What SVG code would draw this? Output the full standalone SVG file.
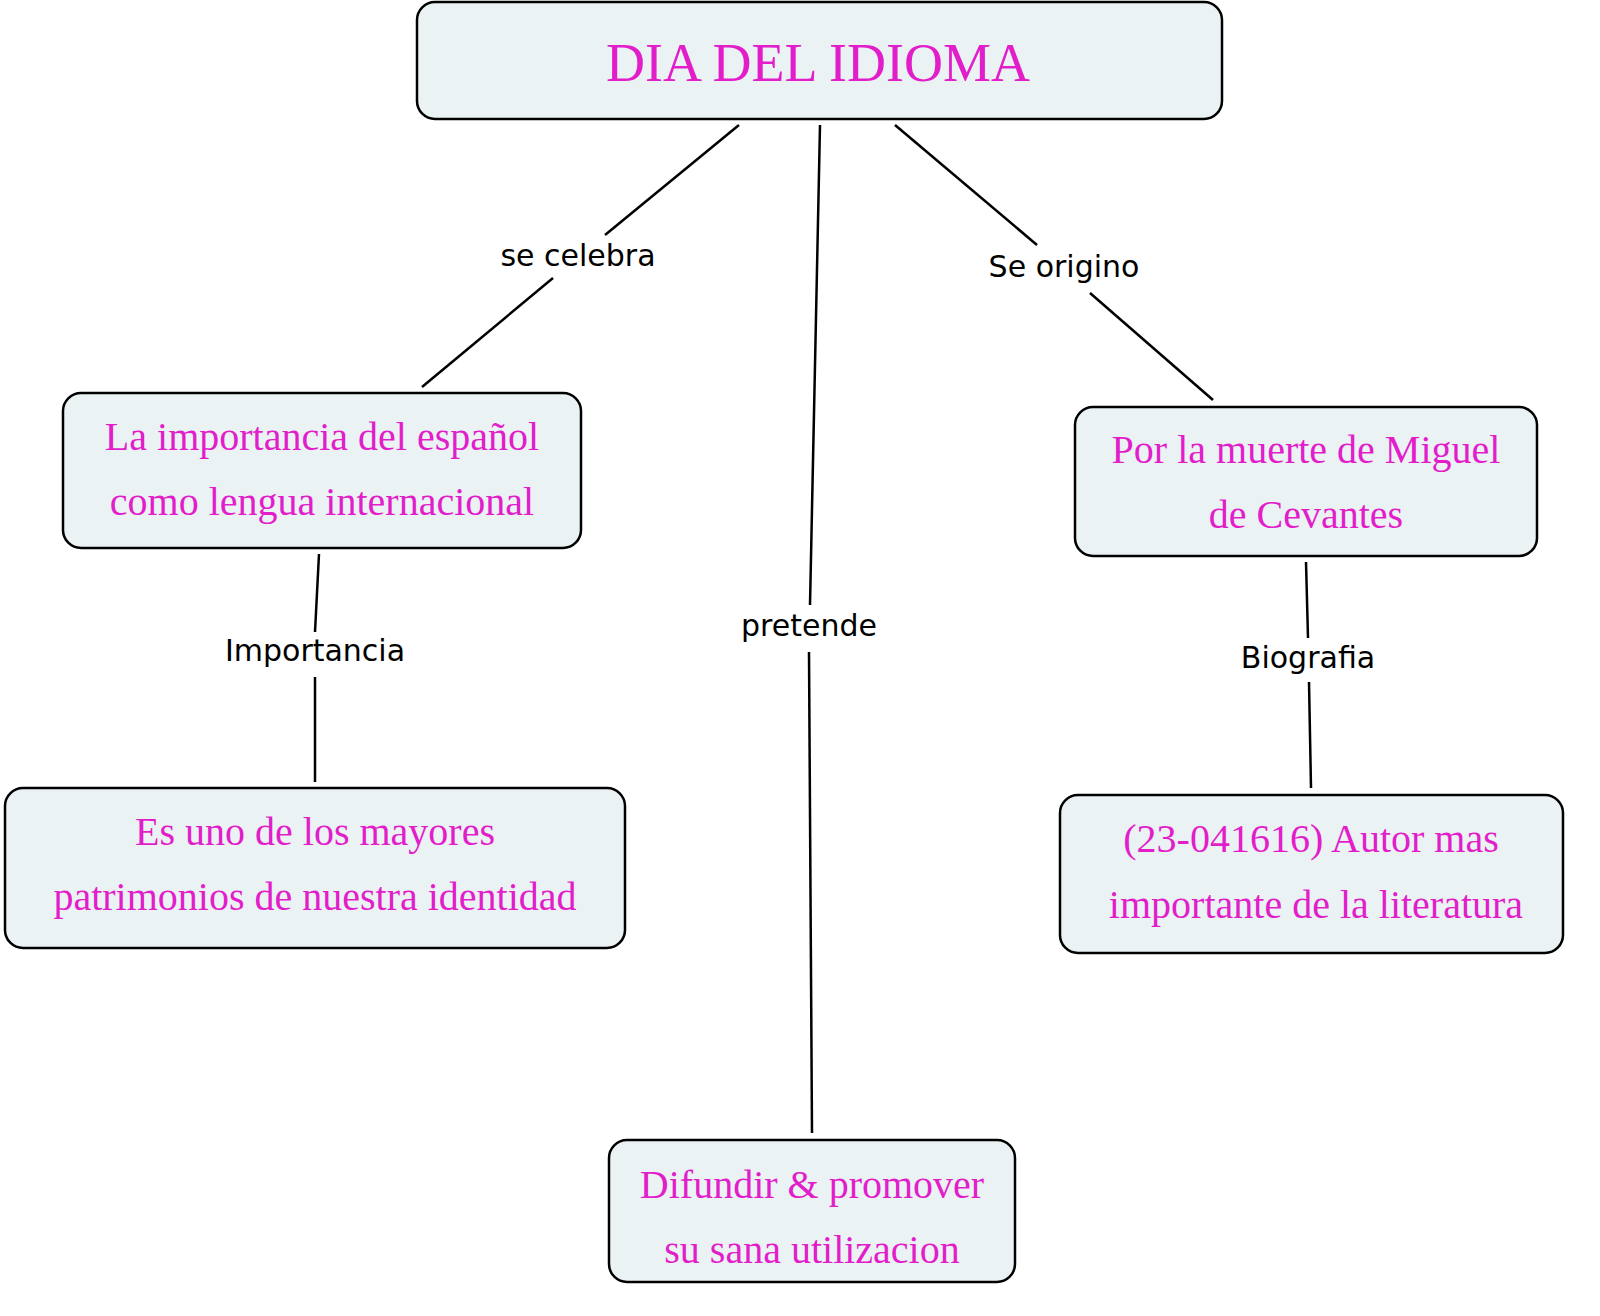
<svg xmlns="http://www.w3.org/2000/svg" width="1600" height="1316" viewBox="0 0 1600 1316">
<style>
.n{fill:#ebf2f4;stroke:#000;stroke-width:2.5}
.t{font-family:"URW Chancery L","Liberation Serif",serif;font-size:40px;fill:#e21ecb;text-anchor:middle}
.l{font-family:"DejaVu Sans",Verdana,sans-serif;font-size:30px;fill:#000;text-anchor:middle}
.c line{stroke:#000;stroke-width:2.5}
</style>
<rect width="1600" height="1316" fill="#fff"/>
<g class="c" id="connectors">
<line x1="739" y1="125" x2="605" y2="235"/><line x1="553" y1="278" x2="422" y2="387"/>
<text class="l" x="578" y="266">se celebra</text>
<line x1="820" y1="125" x2="810" y2="605"/><line x1="809" y1="652" x2="812" y2="1133"/>
<text class="l" x="809" y="636">pretende</text>
<line x1="895" y1="125" x2="1037" y2="245"/><line x1="1090" y1="293" x2="1213" y2="400"/>
<text class="l" x="1064" y="277">Se origino</text>
<line x1="319" y1="554" x2="315" y2="632"/><line x1="315" y1="677" x2="315" y2="782"/>
<text class="l" x="315" y="661">Importancia</text>
<line x1="1306" y1="562" x2="1308" y2="638"/><line x1="1309" y1="682" x2="1311" y2="788"/>
<text class="l" x="1308" y="668">Biografia</text>
</g>
<g id="title"><rect class="n" x="417" y="2" width="805" height="117" rx="18"/><text class="t" x="818" y="81" style="font-size:54px">DIA DEL IDIOMA</text></g>
<g id="n1"><rect class="n" x="63" y="393" width="518" height="155" rx="18"/><text class="t" x="322" y="450">La importancia del español</text><text class="t" x="322" y="515">como lengua internacional</text></g>
<g id="n2"><rect class="n" x="1075" y="407" width="462" height="149" rx="18"/><text class="t" x="1306" y="463">Por la muerte de Miguel</text><text class="t" x="1306" y="528">de Cevantes</text></g>
<g id="n3"><rect class="n" x="5" y="788" width="620" height="160" rx="18"/><text class="t" x="315" y="845">Es uno de los mayores</text><text class="t" x="315" y="910">patrimonios de nuestra identidad</text></g>
<g id="n4"><rect class="n" x="1060" y="795" width="503" height="158" rx="18"/><text class="t" x="1311" y="852">(23-041616) Autor mas</text><text class="t" x="1316" y="918">importante de la literatura</text></g>
<g id="n5"><rect class="n" x="609" y="1140" width="406" height="142" rx="18"/><text class="t" x="812" y="1198">Difundir &amp; promover</text><text class="t" x="812" y="1263">su sana utilizacion</text></g>
</svg>
